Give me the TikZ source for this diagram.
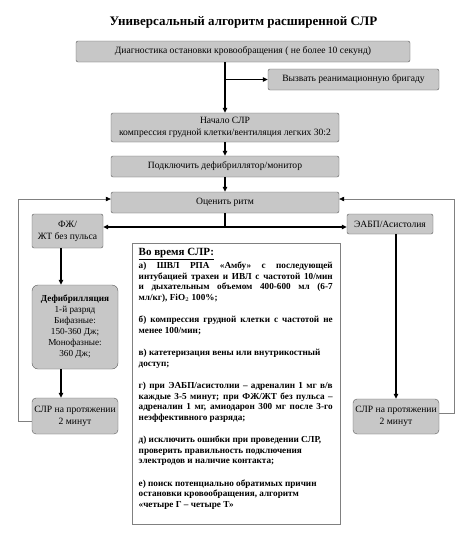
\documentclass[tikz,border=0pt]{standalone}
\usepackage{fontspec}
\setmainfont{Liberation Serif}
\usetikzlibrary{arrows.meta}
\tikzset{>={Triangle[width=4.5pt,length=5pt]}}
\tikzset{
  stepbox/.style={draw=black!65, fill=black!22, rounded corners=2pt, align=center,
    inner sep=1pt, font=\fontsize{9.6}{12}\selectfont},
  flow/.style={->, line width=1.1pt},
  loopback/.style={-{Triangle[width=4.5pt,length=5pt,color=black]}, draw=black!50, line width=0.6pt},
}

\begin{document}
\begin{tikzpicture}[x=1pt,y=-1pt]
  \useasboundingbox[fill=white] (0,0) rectangle (474,539);
  \node[font=\fontsize{13}{15}\selectfont\bfseries] (title) at (243.5,22) {Универсальный алгоритм расширенной СЛР};

  % main column
  \node[stepbox, minimum width=334pt, minimum height=21pt] (diag) at (243,51.5) {Диагностика остановки кровообращения ( не более 10 секунд)};
  \node[stepbox, minimum width=171pt, minimum height=21pt] (call) at (353.5,79.5) {Вызвать реанимационную бригаду};
  \node[stepbox, minimum width=228pt, minimum height=29pt] (start) at (225,127.5) {Начало СЛР\\компрессия грудной клетки/вентиляция легких 30:2};
  \node[stepbox, minimum width=228pt, minimum height=21pt] (monitor) at (225,166.5) {Подключить дефибриллятор/монитор};
  \node[stepbox, minimum width=228pt, minimum height=21pt] (rhythm) at (225,202.5) {Оценить ритм};

  % branches
  \node[stepbox, minimum width=71pt, minimum height=34pt] (vf) at (67.5,231) {ФЖ/\\ЖТ без пульса};
  \node[stepbox, minimum width=86pt, minimum height=20pt] (pea) at (390,224) {ЭАБП/Асистолия};
  \node[stepbox, rounded corners=6pt, minimum width=86pt, minimum height=84pt, font=\fontsize{9.2}{11}\selectfont] (shock) at (75,327)
    {\textbf{Дефибрилляция}\\1-й разряд\\Бифазные:\\150-360 Дж;\\Монофазные:\\360 Дж;};
  \node[stepbox, rounded corners=4pt, minimum width=86pt, minimum height=36pt] (cprL) at (75,416) {СЛР на протяжении\\2 минут};
  \node[stepbox, rounded corners=4pt, minimum width=86pt, minimum height=35pt] (cprR) at (396,416.5) {СЛР на протяжении\\2 минут};

  \node[draw=black!50, line width=0.8pt, minimum width=208pt, minimum height=281pt, inner sep=0pt] (info) at (236,383.5) {};
  \node[anchor=north west, text width=194pt, align=justify, inner sep=0pt, font=\fontsize{9.2}{10.5}\selectfont\bfseries] (infotext) at (138.5,248)
    {\parskip=12pt
     {\fontsize{11}{12}\selectfont\underline{Во время СЛР:}}\\[1.5pt]
     а) ШВЛ РПА «Амбу» с последующей\linebreak интубацией трахеи и ИВЛ с частотой 10/мин\linebreak и дыхательным объемом 400-600 мл (6-7\linebreak мл/кг), FiO$_2$ 100\%;\par
     б) компрессия грудной клетки с частотой не\linebreak менее 100/мин;\par
     в) катетеризация вены или внутрикостный\\доступ;\par
     г) при ЭАБП/асистолии – адреналин 1 мг в/в\linebreak каждые 3-5 минут; при ФЖ/ЖТ без пульса –\linebreak адреналин 1 мг, амиодарон 300 мг после 3-го\linebreak неэффективного разряда;\par
     д) исключить ошибки при проведении СЛР,\\проверить правильность подключения\\электродов и наличие контакта;\par
     е) поиск потенциально обратимых причин\\остановки кровообращения, алгоритм\\«четыре Г – четыре Т»};

  \coordinate (split) at (225,227);
  \coordinate (colL) at (61,0);
  \coordinate (colR) at (396,0);
  \coordinate (loopL) at (18,0);
  \coordinate (loopR) at (454,0);

  \draw[flow] (diag.south -| start.north) -- (start.north);
  \draw[flow] (call.west -| start.north) -- (call.west);
  \draw[flow] (start) -- (monitor);
  \draw[flow] (monitor) -- (rhythm);
  \draw[line width=1.1pt] (rhythm.south) -- (split);
  \draw[flow] (split) -- (split -| vf.east);
  \draw[flow] (split) -- (split -| pea.west);
  \draw[flow] (vf.south -| colL) -- (shock.north -| colL);
  \draw[flow] (shock.south -| colL) -- (cprL.north -| colL);
  \draw[flow] (pea.south -| colR) -- (cprR.north -| colR);

  \draw[loopback] ([yshift=-5pt]cprL.west) -- ([yshift=-5pt]cprL.west -| loopL)
    -- ([yshift=3.5pt]rhythm.west -| loopL) -- ([yshift=3.5pt]rhythm.west);
  \draw[loopback] ([yshift=3.5pt]cprR.east) -- ([yshift=3.5pt]cprR.east -| loopR)
    -- ([yshift=3.5pt]rhythm.east -| loopR) -- ([yshift=3.5pt]rhythm.east);
\end{tikzpicture}
\end{document}
